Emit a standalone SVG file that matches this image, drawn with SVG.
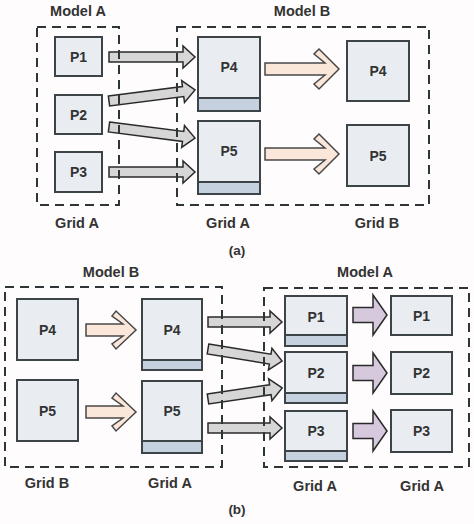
<svg xmlns="http://www.w3.org/2000/svg" width="474" height="524" viewBox="0 0 474 524">
<style>
text{font-family:"Liberation Sans",Arial,sans-serif;font-weight:bold;fill:#333;text-anchor:middle}
.lbl{font-size:14.5px}
.p{font-size:14px}
.cap{font-size:13.5px}
.grp{fill:none;stroke:#2e3538;stroke-width:2;stroke-dasharray:9 6}
.box{fill:#e9edf2;stroke:#3c4448;stroke-width:2}
.stripe{fill:#c5d1de;stroke:#3c4448;stroke-width:2}
.ga{fill:#d6d6d6;stroke:#2a2a2a;stroke-width:1.5;stroke-linejoin:miter}
.oa{fill:#fbe6da;stroke:#484848;stroke-width:1.5}
.pa{fill:#d6c9dd;stroke:#2a2a2a;stroke-width:1.5}
</style>
<defs>
<polygon id="g86" points="0,-5 74,-5 74,-11 86,0 74,11 74,5 0,5"/>
<polygon id="g87" points="0,-5 74.7,-5 74.7,-11 86.7,0 74.7,11 74.7,5 0,5"/>
<polygon id="g74" points="0,-5 62,-5 62,-11 74,0 62,11 62,5 0,5"/>
<polygon id="g75" points="0,-5 63,-5 63,-11 75,0 63,11 63,5 0,5"/>
<polygon id="o74" points="0,-6 60,-6 49,-15 54,-20 74,0 54,20 49,15 60,6 0,6"/>
<polygon id="o50" points="0,-6 37,-6 26,-14 30,-19 50,0 30,19 26,14 37,6 0,6"/>
<polygon id="p34" points="0,-7.5 20,-7.5 20,-20 34,0 20,20 20,7.5 0,7.5"/>
</defs>
<rect width="474" height="524" fill="#fefcfc"/>

<!-- Panel (a) nodes -->
<g id="a_P1"><rect class="box" x="55" y="37" width="47" height="39"/><text class="p" x="78.5" y="62">P1</text></g>
<g id="a_P2"><rect class="box" x="55" y="95" width="47" height="39"/><text class="p" x="78.5" y="120">P2</text></g>
<g id="a_P3"><rect class="box" x="55" y="152" width="47" height="40"/><text class="p" x="78.5" y="177">P3</text></g>
<g id="a_P4A"><rect class="box" x="198" y="37" width="62" height="74"/><rect class="stripe" x="198" y="98" width="62" height="13"/><text class="p" x="229" y="72">P4</text></g>
<g id="a_P5A"><rect class="box" x="198" y="121" width="62" height="73"/><rect class="stripe" x="198" y="182" width="62" height="12"/><text class="p" x="229" y="156">P5</text></g>
<g id="a_P4B"><rect class="box" x="347" y="41" width="62" height="60"/><text class="p" x="378" y="76">P4</text></g>
<g id="a_P5B"><rect class="box" x="347" y="125" width="62" height="61"/><text class="p" x="378" y="161">P5</text></g>

<!-- Panel (b) nodes -->
<g id="b_P4B"><rect class="box" x="17" y="299" width="61" height="61"/><text class="p" x="47.5" y="335">P4</text></g>
<g id="b_P5B"><rect class="box" x="17" y="380" width="61" height="61"/><text class="p" x="47.5" y="416">P5</text></g>
<g id="b_P4A"><rect class="box" x="142" y="299" width="60" height="71"/><rect class="stripe" x="142" y="360" width="60" height="10"/><text class="p" x="172" y="335">P4</text></g>
<g id="b_P5A"><rect class="box" x="142" y="381" width="60" height="72"/><rect class="stripe" x="142" y="441" width="60" height="12"/><text class="p" x="172" y="416">P5</text></g>
<g id="b_P1A"><rect class="box" x="285" y="296" width="62" height="50"/><rect class="stripe" x="285" y="335" width="62" height="11"/><text class="p" x="316" y="322">P1</text></g>
<g id="b_P2A"><rect class="box" x="285" y="352" width="62" height="51"/><rect class="stripe" x="285" y="393" width="62" height="10"/><text class="p" x="316" y="378">P2</text></g>
<g id="b_P3A"><rect class="box" x="285" y="411" width="62" height="50"/><rect class="stripe" x="285" y="451" width="62" height="10"/><text class="p" x="316" y="436">P3</text></g>
<g id="b_P1R"><rect class="box" x="391" y="296" width="61" height="39"/><text class="p" x="421.5" y="321">P1</text></g>
<g id="b_P2R"><rect class="box" x="391" y="352" width="61" height="42"/><text class="p" x="421.5" y="378">P2</text></g>
<g id="b_P3R"><rect class="box" x="391" y="410" width="61" height="42"/><text class="p" x="421.5" y="436">P3</text></g>

<g id="connectors">
<use href="#g86" class="ga" transform="translate(109,57)"/>
<use href="#g87" class="ga" transform="translate(109,101) rotate(-7.29)"/>
<use href="#g87" class="ga" transform="translate(109,127) rotate(7.29)"/>
<use href="#g86" class="ga" transform="translate(109,172)"/>
<use href="#o74" class="oa" transform="translate(265,69)"/>
<use href="#o74" class="oa" transform="translate(265,154)"/>
<use href="#o50" class="oa" transform="translate(86,330)"/>
<use href="#o50" class="oa" transform="translate(86,412)"/>
<use href="#g74" class="ga" transform="translate(208,322)"/>
<use href="#g75" class="ga" transform="translate(208,349) rotate(9.21)"/>
<use href="#g75" class="ga" transform="translate(208,399) rotate(-8.45)"/>
<use href="#g74" class="ga" transform="translate(208,428)"/>
<use href="#p34" class="pa" transform="translate(353,315)"/>
<use href="#p34" class="pa" transform="translate(353,373)"/>
<use href="#p34" class="pa" transform="translate(353,431)"/>
</g>

<!-- group containers (drawn over the connectors, as in the reference) -->
<g id="groupA_modelA">
<rect class="grp" x="37" y="27" width="82" height="178"/>
<text class="lbl" x="78" y="16">Model A</text>
<text class="lbl" x="77" y="228">Grid A</text>
</g>
<g id="groupA_modelB">
<rect class="grp" x="177" y="27" width="252" height="178"/>
<text class="lbl" x="302" y="16">Model B</text>
<text class="lbl" x="228" y="228">Grid A</text>
<text class="lbl" x="377" y="228">Grid B</text>
</g>
<g id="groupB_modelB">
<rect class="grp" x="5" y="287" width="217" height="180" stroke="#24414c"/>
<text class="lbl" x="111" y="277">Model B</text>
<text class="lbl" x="47" y="488">Grid B</text>
<text class="lbl" x="170" y="488">Grid A</text>
</g>
<g id="groupB_modelA">
<rect class="grp" x="264" y="288" width="205" height="179"/>
<text class="lbl" x="365" y="277">Model A</text>
<text class="lbl" x="315" y="491">Grid A</text>
<text class="lbl" x="422" y="491">Grid A</text>
</g>

<text class="cap" x="237" y="255">(a)</text>
<text class="cap" x="237" y="514">(b)</text>
</svg>
